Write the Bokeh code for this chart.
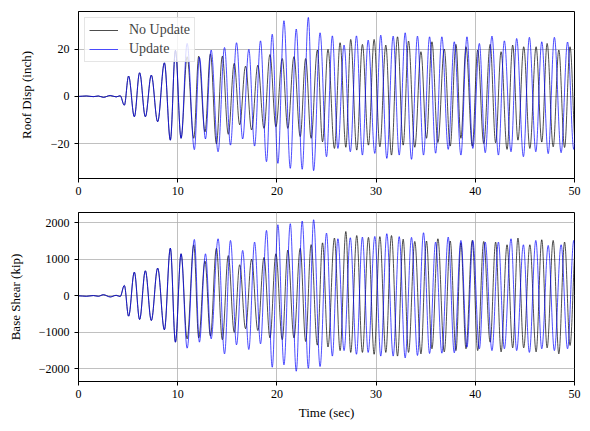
from bokeh.plotting import figure
from bokeh.layouts import column
from bokeh.models import FixedTicker, Range1d, Legend, LegendItem
from bokeh.embed import file_html
from bokeh.resources import INLINE

# ---- data: extrema (turning points) of each response history ----
T_UPDATE = [0.0, 0.8, 1.5, 2.0, 2.5, 3.2, 3.8, 4.2, 4.62, 5.05, 5.63, 6.16, 6.74, 7.34, 7.98, 8.66,
            9.26, 9.77, 10.34, 10.95, 11.68, 12.19, 12.8, 13.37, 14.07, 14.72, 15.32, 15.93, 16.55,
            17.17, 17.75, 18.35, 18.95, 19.53, 20.1, 20.71, 21.35, 21.95, 22.55, 23.17, 23.7, 24.35,
            25.0, 25.59, 26.15, 26.77, 27.4, 28.02, 28.62, 29.2, 29.87, 30.47, 31.08, 31.72, 32.33,
            32.93, 33.57, 34.17, 34.78, 35.39, 36.0, 36.63, 37.27, 37.88, 38.55, 39.16, 39.75, 40.41,
            41.0, 41.68, 42.33, 42.93, 43.6, 44.17, 44.85, 45.45, 46.1, 46.7, 47.35, 47.97, 48.65,
            49.3, 49.93, 50.55]
ROOF_UPDATE = [0.0, 0.2, -0.1, 0.2, -0.4, 0.4, -0.2, 0.3, -3.7, 8.6, -8.6, 10.0, -8.6, 9.0, -10.7, 14.2,
               -18.5, 19.5, -17.7, 22.4, -22.5, 16.5, -18.0, 19.6, -23.4, 20.7, -20.6, 22.7, -18.0,
               19.9, -21.0, 23.5, -27.6, 26.3, -28.3, 32.0, -30.4, 28.5, -30.8, 33.4, -31.4, 26.9,
               -25.5, 25.6, -22.0, 21.7, -23.4, 25.6, -24.8, 23.8, -24.1, 25.9, -26.2, 25.5, -24.8,
               26.9, -26.6, 25.5, -24.8, 25.2, -24.0, 25.2, -22.4, 23.1, -24.8, 25.2, -22.0, 22.4,
               -23.8, 25.5, -24.8, 23.5, -23.4, 24.5, -25.5, 25.0, -23.4, 23.1, -24.2, 25.0, -23.8,
               23.0, -22.4, 22.0]
SHEAR_UPDATE = [0, -13, 7, -13, 30, -30, 13, -20, 283, -557, 648, -648, 685, -676, 758, -931,
                1306, -1269, 1150, -1433, 1543, -1269, 1150, -1178, 1561, -1589, 1516, -1342, 1242,
                -1470, 1470, -1315, 1790, -1954, 1945, -1890, 1973, -2064, 2046, -1982, 2082, -1936,
                1717, -1650, 1562, -1500, 1589, -1600, 1607, -1550, 1625, -1650, 1700, -1650, 1620,
                -1700, 1600, -1634, 1726, -1580, 1470, -1570, 1607, -1560, 1516, -1406, 1516, -1450,
                1470, -1500, 1470, -1450, 1561, -1500, 1397, -1550, 1516, -1450, 1379, -1500, 1397,
                -1450, 1516, -1400]

T_NO_UPDATE = [0.0, 0.8, 1.5, 2.0, 2.5, 3.2, 3.8, 4.2, 4.62, 5.05, 5.63, 6.16, 6.74, 7.34, 7.98, 8.66,
               9.26, 9.77, 10.34, 10.95, 11.62, 12.12, 12.75, 13.3, 13.9, 14.5, 15.1, 15.7, 16.25,
               16.84, 17.45, 18.08, 18.7, 19.3, 19.9, 20.54, 21.1, 21.72, 22.35, 22.9, 23.45, 24.08,
               24.6, 25.15, 25.8, 26.37, 26.95, 27.44, 28.05, 28.62, 29.23, 29.8, 30.38, 30.98, 31.55,
               32.16, 32.73, 33.27, 33.9, 34.52, 35.08, 35.63, 36.23, 36.87, 37.47, 38.05, 38.55,
               39.06, 39.7, 40.24, 40.85, 41.5, 42.05, 42.6, 43.2, 43.77, 44.3, 44.88, 45.5, 46.13,
               46.7, 47.24, 47.85, 48.42, 49.0, 49.55, 50.12]
ROOF_NO_UPDATE = [0.0, 0.2, -0.1, 0.2, -0.4, 0.4, -0.2, 0.3, -3.7, 8.6, -8.6, 10.0, -8.6, 9.0, -10.7, 14.2,
                  -18.5, 19.5, -17.7, 16.8, -17.7, 17.0, -15.0, 18.0, -20.0, 17.0, -16.0, 14.0, -12.0,
                  12.8, -14.2, 13.2, -13.5, 17.7, -12.8, 16.0, -13.5, 16.8, -17.0, 16.0, -17.7, 19.6,
                  -19.2, 19.9, -22.0, 22.7, -21.5, 24.1, -22.7, 22.0, -20.6, 24.1, -21.3, 21.7, -24.8,
                  25.2, -20.6, 23.4, -21.5, 18.9, -17.7, 23.1, -19.5, 20.0, -21.0, 22.0, -17.7,
                  21.0, -21.0, 19.6, -19.9, 22.0, -19.6, 18.9, -22.4, 21.7, -18.5, 21.0, -22.0, 21.0,
                  -19.3, 22.4, -21.3, 19.6, -21.6, 21.0, -21.0]
SHEAR_NO_UPDATE = [0, -13, 7, -13, 30, -30, 13, -20, 283, -557, 648, -648, 685, -676, 758, -931,
                   1306, -1269, 1150, -1178, 1397, -1150, 950, -1100, 1300, -1200, 1100, -1000, 850,
                   -900, 1000, -950, 1050, -1150, 1150, -1200, 1250, -1150, 1300, -1250, 1400, -1350,
                   1450, -1400, 1580, -1500, 1760, -1550, 1650, -1550, 1600, -1600, 1620, -1550, 1650,
                   -1650, 1550, -1550, 1488, -1589, 1500, -1450, 1561, -1534, 1500, -1500, 1450,
                   -1450, 1516, -1500, 1488, -1269, 1470, -1534, 1397, -1424, 1580, -1424, 1397, -1534,
                   1534, -1424, 1516, -1589, 1470, -1360, 1350]

X_TICKS = [0, 10, 20, 30, 40, 50]
ROOF_TICKS = [-20, 0, 20]
SHEAR_TICKS = [-2000, -1000, 0, 1000, 2000]

FONT = "Liberation Serif"
K = 1 - 2 / 3.141592653589793  # horizontal-tangent bezier between turning points


def segments(t, y):
    x0, y0, x1, y1, cx0, cx1 = [], [], [], [], [], []
    for i in range(len(t) - 1):
        dt = t[i + 1] - t[i]
        x0.append(t[i]); y0.append(y[i]); x1.append(t[i + 1]); y1.append(y[i + 1])
        cx0.append(t[i] + K * dt); cx1.append(t[i + 1] - K * dt)
    return dict(x0=x0, y0=y0, x1=x1, y1=y1, cx0=cx0, cy0=y0, cx1=cx1, cy1=y1)


def minus(v):
    return f"{v:d}".replace("-", "\u2212")


def make_fig(yr, yticks, ylabel, xlabel, top, bottom, fh, ystand):
    p = figure(frame_width=496, frame_height=fh, output_backend="svg", toolbar_location=None,
               x_range=Range1d(0, 50), y_range=Range1d(*yr),
               min_border_left=78, min_border_right=8, min_border_top=top, min_border_bottom=bottom)
    p.outline_line_color = "black"
    p.outline_line_width = 1
    p.background_fill_color = "white"
    p.border_fill_color = "white"
    for ax, ticks in ((p.xaxis[0], X_TICKS), (p.yaxis[0], yticks)):
        ax.ticker = FixedTicker(ticks=ticks)
        ax.major_label_overrides = {v: minus(v) for v in ticks}
        ax.minor_tick_line_color = None
        ax.major_tick_in = 0
        ax.major_tick_out = 4
        ax.axis_line_color = "black"
        ax.major_label_text_font = FONT
        ax.major_label_text_font_size = "12px"
        ax.major_label_text_color = "black"
        ax.axis_label_text_font = FONT
        ax.axis_label_text_font_size = "13px"
        ax.axis_label_text_font_style = "normal"
        ax.axis_label_text_color = "black"
    p.xaxis.major_label_standoff = 4
    p.yaxis.major_label_standoff = 5
    p.yaxis.axis_label = ylabel
    p.yaxis.axis_label_standoff = ystand
    if xlabel:
        p.xaxis.axis_label = xlabel
        p.xaxis.axis_label_standoff = 4
    p.xgrid.ticker = FixedTicker(ticks=X_TICKS)
    p.ygrid.ticker = FixedTicker(ticks=yticks)
    for g in (p.xgrid[0], p.ygrid[0]):
        g.grid_line_color = "#b0b0b0"
        g.grid_line_width = 0.8
    return p


p1 = make_fig((-34.7, 35.9), ROOF_TICKS, "Roof Disp (inch)", None, 11, 24, 167, 14)
r1a = p1.bezier(source=segments(T_NO_UPDATE, ROOF_NO_UPDATE), x0="x0", y0="y0", x1="x1", y1="y1",
                cx0="cx0", cy0="cy0", cx1="cx1", cy1="cy1", line_color="black", line_width=0.7)
r1b = p1.bezier(source=segments(T_UPDATE, ROOF_UPDATE), x0="x0", y0="y0", x1="x1", y1="y1",
                cx0="cx0", cy0="cy0", cx1="cx1", cy1="cy1", line_color="blue", line_width=0.7)
leg = Legend(items=[LegendItem(label="No Update", renderers=[r1a]),
                    LegendItem(label="Update", renderers=[r1b])],
             location="top_left")
leg.margin = 6
leg.padding = 4
leg.spacing = 3
leg.glyph_width = 29
leg.glyph_height = 16
leg.label_standoff = 11
leg.label_text_font = FONT
leg.label_text_font_size = "14px"
leg.border_line_color = "#cccccc"
leg.background_fill_alpha = 0.8
p1.add_layout(leg)

p2 = make_fig((-2345, 2280), SHEAR_TICKS, "Base Shear (kip)", "Time (sec)", 10, 40, 169, 13)
p2.bezier(source=segments(T_NO_UPDATE, SHEAR_NO_UPDATE), x0="x0", y0="y0", x1="x1", y1="y1",
          cx0="cx0", cy0="cy0", cx1="cx1", cy1="cy1", line_color="black", line_width=0.7)
p2.bezier(source=segments(T_UPDATE, SHEAR_UPDATE), x0="x0", y0="y0", x1="x1", y1="y1",
          cx0="cx0", cy0="cy0", cx1="cx1", cy1="cy1", line_color="blue", line_width=0.7)

layout = column(p1, p2, spacing=0)
open("out.html", "w").write(file_html(layout, INLINE))
